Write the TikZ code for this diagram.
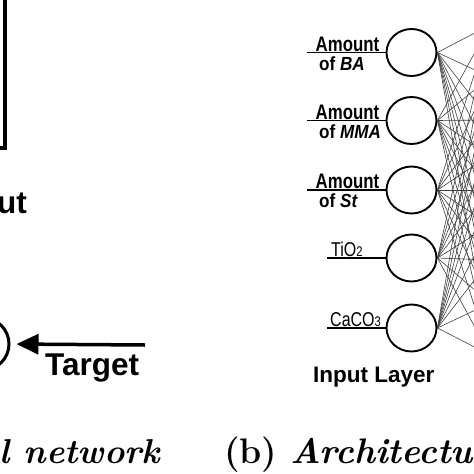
\documentclass[tikz,border=0pt]{standalone}
\usepackage{fontspec}
\newfontfamily\lsans{Liberation Sans}
\usetikzlibrary{arrows.meta,shapes.geometric}
\tikzset{
  innode/.style={draw,line width=1.9pt,ellipse,minimum width=50pt,minimum height=47pt,inner sep=0pt},
  conn/.style={line width=0.6pt,black!75},
  labline/.style={line width=1.2pt},
  lab/.style={anchor=base west,inner sep=0pt,font=\lsans\bfseries\fontsize{21}{24}\selectfont},
  labof/.style={anchor=base west,inner sep=0pt,font=\lsans\bfseries\fontsize{19}{22}\selectfont},
  labr/.style={anchor=base west,inner sep=0pt,font=\lsans\fontsize{20}{24}\selectfont},
  big/.style={inner sep=0pt,font=\lsans\bfseries\fontsize{31.5}{36}\selectfont},
  captext/.style={inner sep=0pt,font=\fontsize{35.5}{40}\selectfont},
  thickbox/.style={draw,line width=4pt},
}
\newcommand{\nar}[1]{\scalebox{0.8}[1]{#1}}
\newcommand{\narof}[1]{\scalebox{0.9}[1]{#1}}
\begin{document}
\begin{tikzpicture}[x=1pt,y=-1pt]
\useasboundingbox (0,0) rectangle (474,474);
\clip (0,0) rectangle (474,474);
% left panel
\draw[thickbox] (-100,-20) rectangle (5,148);
\node[big,anchor=base east] (ut) at (27,213) {ut};
\node[draw,circle,line width=3pt,minimum size=52pt,inner sep=0pt] (outc) at (-17,344) {};
\coordinate (tgt) at (145,345);
\draw[line width=3.5pt,-{Triangle[length=22pt,width=20pt]},shorten >=6pt] (tgt) -- (outc.east);
\node[big,anchor=base west] (target) at (45,375) {Target};
\node[captext,anchor=base west,font=\fontsize{34.5}{40}\selectfont] (capa) at (-1,463) {\bfseries\itshape l network};
\node[captext,anchor=base west] (capb) at (224,463) {\bfseries (b) \itshape Architectu};
% input nodes
\node[innode] (in1) at (411.5,52.5) {};
\node[innode] (in2) at (411.5,120.5) {};
\node[innode] (in3) at (411.5,190) {};
\node[innode] (in4) at (411.5,258) {};
\node[innode] (in5) at (411.5,328) {};
% hidden (off picture)
\foreach \j/\yy in {1/25,2/77,3/120,4/155,5/190,6/225,7/260,8/303,9/355}
  \coordinate (h\j) at (490,\yy);
\foreach \i in {1,...,5}
  \foreach \j in {1,...,9}
    \draw[conn] (in\i.east) -- (h\j);
% label lines
\coordinate (l1) at (307,52.5);
\coordinate (l2) at (307,120.5);
\coordinate (l3) at (307,190);
\coordinate (l4) at (327,258);
\coordinate (l5) at (327,328);
\foreach \i in {1,...,5} \draw[labline] (l\i) -- (in\i.west);
% labels
\node[lab] (a1) at (315.5,51) {\nar{Amount}};
\node[labof] (b1) at (319,70) {\narof{of \itshape BA}};
\node[lab] (a2) at (315.5,119) {\nar{Amount}};
\node[labof] (b2) at (319,138.5) {\narof{of \itshape MMA}};
\node[lab] (a3) at (315.5,188.5) {\nar{Amount}};
\node[labof] (b3) at (319,207.5) {\narof{of \itshape St}};
\node[labr] (t4) at (331,256.5) {\nar{TiO{\fontsize{14}{16}\selectfont 2}}};
\node[labr] (t5) at (330,326) {\nar{CaCO{\fontsize{14}{16}\selectfont 3}}};
\node[anchor=base west,inner sep=0pt,font=\lsans\bfseries\fontsize{22.5}{26}\selectfont] (il) at (313,382) {Input Layer};
\end{tikzpicture}
\end{document}
